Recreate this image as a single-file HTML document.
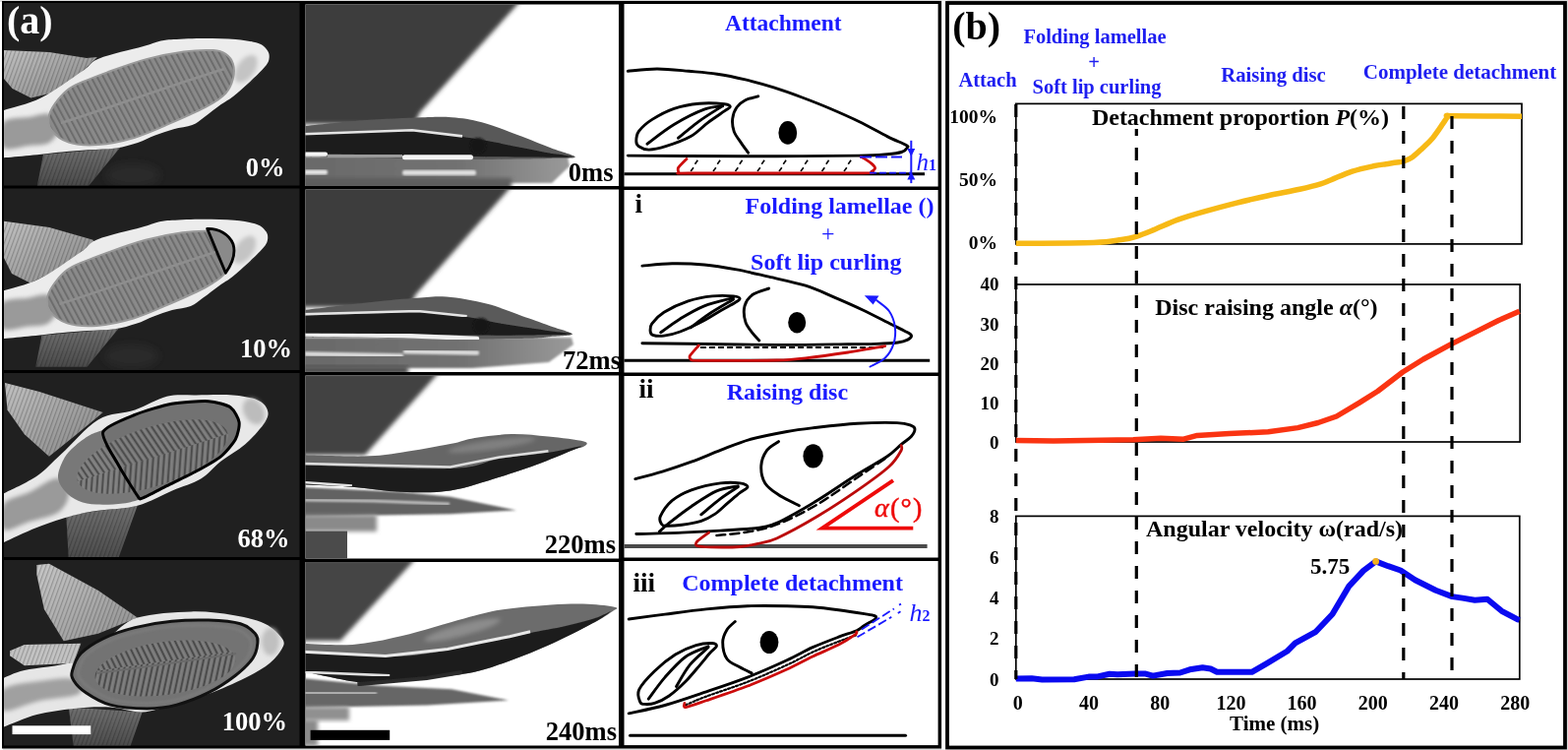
<!DOCTYPE html>
<html><head><meta charset="utf-8"><title>Figure</title>
<style>html,body{margin:0;padding:0;background:#fff;} svg{display:block;}</style>
</head><body>
<svg width="1594" height="762" viewBox="0 0 1594 762">
<defs>
<filter id="b05" x="-10%" y="-10%" width="120%" height="120%"><feGaussianBlur stdDeviation="0.6"/></filter>
<filter id="b1" x="-10%" y="-10%" width="120%" height="120%"><feGaussianBlur stdDeviation="1.2"/></filter>
<filter id="b2" x="-20%" y="-20%" width="140%" height="140%"><feGaussianBlur stdDeviation="2.2"/></filter>
<filter id="b4" x="-30%" y="-30%" width="160%" height="160%"><feGaussianBlur stdDeviation="4"/></filter>
<linearGradient id="finA" x1="0" y1="0" x2="1" y2="1"><stop offset="0" stop-color="#c2c2c2"/><stop offset="1" stop-color="#858585"/></linearGradient>
<linearGradient id="finB" x1="0" y1="0" x2="0" y2="1"><stop offset="0" stop-color="#707070"/><stop offset="1" stop-color="#4a4a4a"/></linearGradient>
<linearGradient id="finC" x1="0" y1="0" x2="1" y2="1"><stop offset="0" stop-color="#c8c8c8"/><stop offset="1" stop-color="#909090"/></linearGradient>
<pattern id="ridge" width="5.5" height="10" patternUnits="userSpaceOnUse" patternTransform="rotate(-28)"><rect width="5.5" height="10" fill="#8a8a8a"/><rect width="2" height="10" fill="#6c6c6c"/></pattern>
<pattern id="ridgeD" width="5.5" height="10" patternUnits="userSpaceOnUse" patternTransform="rotate(-8)"><rect width="5.5" height="10" fill="#787878"/><rect width="1.6" height="10" fill="#505050"/></pattern>
<linearGradient id="reflG" x1="0" y1="0" x2="1" y2="0"><stop offset="0" stop-color="#6a6a6a"/><stop offset="0.6" stop-color="#727272"/><stop offset="1" stop-color="#9a9a9a"/></linearGradient>
<pattern id="rU" width="5.5" height="10" patternUnits="userSpaceOnUse" patternTransform="rotate(-26)"><rect width="1.7" height="10" fill="#474747"/><rect x="2.6" width="1.6" height="10" fill="#8a8a8a" fill-opacity="0.6"/></pattern>
<pattern id="rL" width="5.5" height="10" patternUnits="userSpaceOnUse" patternTransform="rotate(12)"><rect width="1.7" height="10" fill="#474747"/><rect x="2.6" width="1.6" height="10" fill="#8a8a8a" fill-opacity="0.6"/></pattern>
<pattern id="rU3" width="5.5" height="10" patternUnits="userSpaceOnUse" patternTransform="rotate(-34)"><rect width="1.7" height="10" fill="#4a4a4a"/><rect x="2.6" width="1.6" height="10" fill="#8e8e8e" fill-opacity="0.6"/></pattern>
<pattern id="rL3" width="5.5" height="10" patternUnits="userSpaceOnUse" patternTransform="rotate(4)"><rect width="1.7" height="10" fill="#4a4a4a"/><rect x="2.6" width="1.6" height="10" fill="#8e8e8e" fill-opacity="0.6"/></pattern>
<clipPath id="cD4in"><ellipse cx="168" cy="679" rx="72" ry="27" transform="rotate(-8 168 679)"/></clipPath>
<clipPath id="cD3in"><ellipse cx="155" cy="464" rx="80" ry="30" transform="rotate(-18 155 464)"/></clipPath>
<pattern id="fstripe" width="4" height="4" patternUnits="userSpaceOnUse" patternTransform="rotate(20)"><rect width="4" height="4" fill="#000" fill-opacity="0"/><rect width="1.2" height="4" fill="#000" fill-opacity="0.22"/></pattern>
<clipPath id="cL1"><rect x="4" y="3" width="300.5" height="185.5"/></clipPath>
<clipPath id="cL2"><rect x="4" y="191.5" width="300.5" height="184.5"/></clipPath>
<clipPath id="cL3"><rect x="4" y="379" width="300.5" height="187"/></clipPath>
<clipPath id="cL4"><rect x="4" y="569" width="300.5" height="188.5"/></clipPath>
<clipPath id="cM1"><rect x="310.5" y="4.5" width="318.5" height="184.5"/></clipPath>
<clipPath id="cM2"><rect x="310.5" y="192.5" width="318.5" height="185.5"/></clipPath>
<clipPath id="cM3"><rect x="310.5" y="381.5" width="318.5" height="186"/></clipPath>
<clipPath id="cM4"><rect x="310.5" y="571" width="318.5" height="186.5"/></clipPath>
</defs>
<rect x="0" y="0" width="1594" height="762" fill="#dcdcdc"/>
<rect x="0" y="2" width="3" height="760" fill="#fff"/>
<rect x="2" y="1" width="955.3" height="759.5" fill="#000"/>
<rect x="957.3" y="0.5" width="5.7" height="761" fill="#fff"/>
<rect x="963" y="3" width="628" height="756.5" fill="#fff" stroke="#000" stroke-width="3.8"/>
<rect x="4" y="3" width="300.5" height="185.5" fill="#202020"/>
<rect x="4" y="191.5" width="300.5" height="184.5" fill="#202020"/>
<rect x="4" y="379" width="300.5" height="187" fill="#202020"/>
<rect x="4" y="569" width="300.5" height="188.5" fill="#202020"/>
<rect x="310.5" y="4.5" width="318.5" height="184.5" fill="#fff"/>
<rect x="310.5" y="192.5" width="318.5" height="185.5" fill="#fff"/>
<rect x="310.5" y="381.5" width="318.5" height="186.0" fill="#fff"/>
<rect x="310.5" y="571" width="318.5" height="186.5" fill="#fff"/>
<rect x="634.5" y="4" width="319.1" height="185.5" fill="#fff"/>
<rect x="634.5" y="193" width="319.1" height="185.5" fill="#fff"/>
<rect x="634.5" y="382" width="319.1" height="184.5" fill="#fff"/>
<rect x="634.5" y="570" width="319.1" height="187.10000000000002" fill="#fff"/>
<rect x="1032.8" y="105.4" width="514.2" height="142.5" fill="none" stroke="#000" stroke-width="1.7"/>
<rect x="1032.8" y="289" width="512.4000000000001" height="160" fill="none" stroke="#000" stroke-width="1.7"/>
<rect x="1032.8" y="524.4" width="512.0" height="165.60000000000002" fill="none" stroke="#000" stroke-width="1.7"/>
<text x="1261" y="127.3" font-family="'Liberation Serif', 'Times New Roman', serif" font-size="24" font-weight="bold" fill="#000" text-anchor="middle" >Detachment proportion <tspan font-style="italic">P</tspan>(%)</text>
<text x="1287.4" y="319.7" font-family="'Liberation Serif', 'Times New Roman', serif" font-size="24" font-weight="bold" fill="#000" text-anchor="middle" >Disc raising angle <tspan font-style="italic">α</tspan>(°)</text>
<text x="1295.5" y="545" font-family="'Liberation Serif', 'Times New Roman', serif" font-size="24" font-weight="bold" fill="#000" text-anchor="middle" >Angular velocity ω(rad/s)</text>
<path d="M1032.8,247.3 C1045.9,247.2 1093.7,247.1 1111.6,246.5 C1129.5,245.9 1132.8,244.5 1140.0,243.5 C1147.2,242.5 1149.7,241.9 1155.0,240.3 C1160.3,238.7 1164.9,236.8 1172.0,233.9 C1179.1,231.1 1188.7,226.4 1197.6,223.2 C1206.5,220.0 1215.3,217.5 1225.3,214.7 C1235.2,211.8 1246.6,208.8 1257.3,206.1 C1268.0,203.4 1278.6,201.0 1289.3,198.7 C1300.0,196.4 1312.4,194.3 1321.3,192.3 C1330.2,190.3 1337.3,188.5 1342.6,186.9 C1347.9,185.3 1348.0,184.8 1353.3,182.7 C1358.6,180.6 1367.5,176.4 1374.6,174.1 C1381.7,171.8 1390.3,170.0 1396.0,168.8 C1401.7,167.6 1404.8,167.3 1408.8,166.7 C1412.8,166.1 1417.1,165.4 1420.0,165.0 C1422.9,164.6 1423.7,164.9 1426.3,164.0 C1428.9,163.1 1432.4,162.1 1435.7,159.8 C1439.0,157.5 1442.7,153.7 1446.2,150.4 C1449.7,147.1 1453.2,144.1 1456.7,139.9 C1460.2,135.7 1464.6,128.9 1467.2,125.2 C1469.8,121.5 1470.9,119.1 1472.5,117.9 C1474.1,116.7 1464.3,117.8 1476.7,117.8 C1489.1,117.8 1535.3,118.1 1547.0,118.2" fill="none" stroke="#f7b916" stroke-width="5.5" stroke-linejoin="round" stroke-linecap="butt"/>
<polyline points="1032.8,447.6 1071.0,448.0 1152.0,446.8 1180.0,445.3 1203.2,446.2 1217.1,442.4 1249.6,440.6 1289.1,438.8 1319.3,434.6 1340.0,429.5 1358.7,423.0 1382.0,409.1 1400.5,397.5 1426.0,378.0 1446.9,365.0 1474.8,349.9 1500.3,337.1 1523.5,325.5 1544.6,316.2" fill="none" stroke="#fa3412" stroke-width="5.5" stroke-linejoin="round" stroke-linecap="butt"/>
<polyline points="1032.8,689.4 1048.8,689.3 1059.4,690.4 1092.0,690.3 1106.7,687.6 1114.8,687.6 1127.9,684.7 1136.0,685.2 1154.0,684.4 1163.8,684.4 1171.9,686.6 1186.6,684.0 1199.7,683.5 1209.4,680.3 1222.5,678.3 1230.7,679.5 1237.2,682.7 1272.6,682.8 1287.3,674.4 1308.3,661.8 1316.7,653.4 1337.7,641.8 1354.5,624.0 1371.3,595.6 1386.0,579.9 1398.6,570.4 1411.2,575.2 1423.8,579.5 1438.5,589.3 1459.5,599.8 1476.3,606.1 1486.7,607.6 1499.3,609.7 1512.0,608.7 1526.6,620.8 1542.4,629.2 1544.6,630.0" fill="none" stroke="#0a0af0" stroke-width="6" stroke-linejoin="round" stroke-linecap="butt"/>
<line x1="1032.8" y1="106" x2="1032.8" y2="690" stroke="#000" stroke-width="3.2" stroke-dasharray="13 12" stroke-dashoffset="0"/>
<line x1="1155.3" y1="131" x2="1155.3" y2="690" stroke="#000" stroke-width="3.2" stroke-dasharray="13 12" stroke-dashoffset="6"/>
<line x1="1426.8" y1="106" x2="1426.8" y2="690" stroke="#000" stroke-width="3.2" stroke-dasharray="13 12" stroke-dashoffset="-2"/>
<line x1="1476" y1="106" x2="1476" y2="690" stroke="#000" stroke-width="3.2" stroke-dasharray="13 12" stroke-dashoffset="-12"/>
<circle cx="1398.6" cy="570.4" r="3.4" fill="#f2b01e"/>
<text x="1352" y="582.5" font-family="'Liberation Serif', 'Times New Roman', serif" font-size="23" font-weight="bold" fill="#000" text-anchor="middle" >5.75</text>
<text x="1014" y="124.8" font-family="'Liberation Serif', 'Times New Roman', serif" font-size="19.5" font-weight="bold" fill="#000" text-anchor="end" >100%</text>
<text x="1014" y="189.2" font-family="'Liberation Serif', 'Times New Roman', serif" font-size="19.5" font-weight="bold" fill="#000" text-anchor="end" >50%</text>
<text x="1014" y="252.9" font-family="'Liberation Serif', 'Times New Roman', serif" font-size="19.5" font-weight="bold" fill="#000" text-anchor="end" >0%</text>
<text x="1015.5" y="295.40000000000003" font-family="'Liberation Serif', 'Times New Roman', serif" font-size="19" font-weight="bold" fill="#000" text-anchor="end" >40</text>
<text x="1015.5" y="335.50000000000006" font-family="'Liberation Serif', 'Times New Roman', serif" font-size="19" font-weight="bold" fill="#000" text-anchor="end" >30</text>
<text x="1015.5" y="375.6" font-family="'Liberation Serif', 'Times New Roman', serif" font-size="19" font-weight="bold" fill="#000" text-anchor="end" >20</text>
<text x="1015.5" y="415.7" font-family="'Liberation Serif', 'Times New Roman', serif" font-size="19" font-weight="bold" fill="#000" text-anchor="end" >10</text>
<text x="1015.5" y="455.8" font-family="'Liberation Serif', 'Times New Roman', serif" font-size="19" font-weight="bold" fill="#000" text-anchor="end" >0</text>
<text x="1015.5" y="531.1999999999999" font-family="'Liberation Serif', 'Times New Roman', serif" font-size="19" font-weight="bold" fill="#000" text-anchor="end" >8</text>
<text x="1015.5" y="572.5999999999999" font-family="'Liberation Serif', 'Times New Roman', serif" font-size="19" font-weight="bold" fill="#000" text-anchor="end" >6</text>
<text x="1015.5" y="614.0" font-family="'Liberation Serif', 'Times New Roman', serif" font-size="19" font-weight="bold" fill="#000" text-anchor="end" >4</text>
<text x="1015.5" y="655.4" font-family="'Liberation Serif', 'Times New Roman', serif" font-size="19" font-weight="bold" fill="#000" text-anchor="end" >2</text>
<text x="1015.5" y="696.8" font-family="'Liberation Serif', 'Times New Roman', serif" font-size="19" font-weight="bold" fill="#000" text-anchor="end" >0</text>
<text x="1034.8" y="721" font-family="'Liberation Serif', 'Times New Roman', serif" font-size="20" font-weight="bold" fill="#000" text-anchor="middle" >0</text>
<text x="1107.0" y="721" font-family="'Liberation Serif', 'Times New Roman', serif" font-size="20" font-weight="bold" fill="#000" text-anchor="middle" >40</text>
<text x="1179.2" y="721" font-family="'Liberation Serif', 'Times New Roman', serif" font-size="20" font-weight="bold" fill="#000" text-anchor="middle" >80</text>
<text x="1251.4" y="721" font-family="'Liberation Serif', 'Times New Roman', serif" font-size="20" font-weight="bold" fill="#000" text-anchor="middle" >120</text>
<text x="1323.6" y="721" font-family="'Liberation Serif', 'Times New Roman', serif" font-size="20" font-weight="bold" fill="#000" text-anchor="middle" >160</text>
<text x="1395.8" y="721" font-family="'Liberation Serif', 'Times New Roman', serif" font-size="20" font-weight="bold" fill="#000" text-anchor="middle" >200</text>
<text x="1468.0" y="721" font-family="'Liberation Serif', 'Times New Roman', serif" font-size="20" font-weight="bold" fill="#000" text-anchor="middle" >240</text>
<text x="1540.2" y="721" font-family="'Liberation Serif', 'Times New Roman', serif" font-size="20" font-weight="bold" fill="#000" text-anchor="middle" >280</text>
<text x="1295.6" y="742" font-family="'Liberation Serif', 'Times New Roman', serif" font-size="21" font-weight="bold" fill="#000" text-anchor="middle" >Time (ms)</text>
<text x="968.3" y="39.5" font-family="'Liberation Serif', 'Times New Roman', serif" font-size="40" font-weight="bold" fill="#000" text-anchor="start" >(b)</text>
<text x="1113" y="43.5" font-family="'Liberation Serif', 'Times New Roman', serif" font-size="20.5" font-weight="bold" fill="#1e1ef0" text-anchor="middle" >Folding lamellae</text>
<text x="1112" y="69.5" font-family="'Liberation Serif', 'Times New Roman', serif" font-size="20.5" font-weight="bold" fill="#1e1ef0" text-anchor="middle" >+</text>
<text x="1115" y="94.5" font-family="'Liberation Serif', 'Times New Roman', serif" font-size="20.5" font-weight="bold" fill="#1e1ef0" text-anchor="middle" >Soft lip curling</text>
<text x="1004" y="87.7" font-family="'Liberation Serif', 'Times New Roman', serif" font-size="20.5" font-weight="bold" fill="#1e1ef0" text-anchor="middle" >Attach</text>
<text x="1294.5" y="83" font-family="'Liberation Serif', 'Times New Roman', serif" font-size="20.7" font-weight="bold" fill="#1e1ef0" text-anchor="middle" >Raising disc</text>
<text x="1484" y="80.2" font-family="'Liberation Serif', 'Times New Roman', serif" font-size="21" font-weight="bold" fill="#1e1ef0" text-anchor="middle" >Complete detachment</text>
<g clip-path="url(#cL1)"><polygon points="4.0,51.0 50.0,53.0 88.0,59.0 99.0,58.0 82.0,74.0 63.0,92.0 31.5,99.5 12.6,90.0 4.0,80.0" fill="url(#finA)" filter="url(#b05)"/><polygon points="4.0,51.0 50.0,53.0 88.0,59.0 99.0,58.0 82.0,74.0 63.0,92.0 31.5,99.5 12.6,90.0 4.0,80.0" fill="url(#fstripe)" /><polygon points="44.0,157.0 122.0,150.0 90.0,189.0 37.8,189.0" fill="url(#finB)" filter="url(#b05)"/>
<polygon points="44.0,157.0 122.0,150.0 90.0,189.0 37.8,189.0" fill="url(#fstripe)" />
<ellipse cx="135" cy="178" rx="28" ry="12" fill="#3a3a3a" fill-opacity="0.4" filter="url(#b4)"/>
<path d="M4.0,112.0 C10.3,109.9 28.7,106.0 42.0,99.3 C55.3,92.6 74.2,78.7 84.0,72.0 C93.8,65.3 90.6,63.5 100.8,59.4 C111.0,55.3 134.8,50.2 145.0,47.3 C155.2,44.4 156.6,43.2 161.8,42.0 C167.1,40.8 168.8,40.5 176.5,40.0 C184.2,39.5 197.5,38.9 208.0,38.9 C218.5,38.9 230.4,39.1 239.5,40.0 C248.6,40.9 257.2,42.2 262.6,44.1 C268.0,46.0 270.2,48.9 272.0,51.5 C273.8,54.1 274.0,57.1 273.5,59.9 C273.0,62.7 272.1,64.5 268.9,68.3 C265.7,72.1 259.4,78.1 254.2,83.0 C248.9,87.9 242.3,93.9 237.4,97.7 C232.5,101.5 229.7,102.6 224.8,106.1 C219.9,109.6 212.9,115.2 208.0,118.7 C203.1,122.2 200.7,125.0 195.4,127.1 C190.2,129.2 182.8,129.6 176.5,131.3 C170.2,133.1 163.7,135.3 157.6,137.6 C151.5,139.9 146.6,142.8 140.0,145.0 C133.4,147.2 126.3,149.3 118.0,150.5 C109.7,151.7 99.2,151.6 90.0,152.3 C80.8,153.0 73.0,153.6 63.0,154.5 C53.0,155.4 39.8,157.0 30.0,158.0 C20.2,159.0 8.3,159.9 4.0,160.3 Z" fill="#ececec" filter="url(#b05)"/>
<path d="M4.0,124.0 C8.3,118.8 22.3,120.3 30.0,119.0 C37.7,117.7 45.0,114.2 50.0,116.0 C55.0,117.8 60.0,125.2 60.0,130.0 C60.0,134.8 55.0,142.0 50.0,145.0 C45.0,148.0 37.7,147.2 30.0,148.0 C22.3,148.8 8.3,154.0 4.0,150.0 C-0.3,146.0 -0.3,129.2 4.0,124.0 Z" fill="#9a9a9a" filter="url(#b2)"/>
<ellipse cx="250" cy="70" rx="9" ry="16" transform="rotate(35 250 70)" fill="#c4c4c4" filter="url(#b2)"/>
<path d="M49.9,117.2 C51.2,111.8 55.9,105.0 60.0,100.0 C64.2,95.0 66.1,91.9 74.8,87.3 C83.5,82.7 99.7,76.9 112.2,72.3 C124.7,67.7 137.1,63.2 149.6,59.9 C162.1,56.6 175.8,53.9 187.0,52.4 C198.2,50.9 209.9,50.7 217.0,51.1 C224.1,51.5 226.1,52.6 229.4,54.9 C232.7,57.2 235.7,60.6 236.9,64.8 C238.2,69.0 238.2,74.8 236.9,79.8 C235.7,84.8 233.6,90.2 229.4,94.8 C225.2,99.4 221.1,102.2 212.0,107.2 C202.9,112.2 187.1,119.3 174.6,124.7 C162.1,130.1 149.7,136.0 137.2,139.7 C124.7,143.4 111.0,146.3 99.8,147.1 C88.6,147.9 77.7,147.1 69.8,144.6 C61.9,142.1 55.7,136.8 52.4,132.2 C49.1,127.6 48.6,122.6 49.9,117.2 Z" fill="url(#ridge)" stroke="#999" stroke-width="2" filter="url(#b05)"/>
<path d="M62,125 C110,110 170,88 228,70" stroke="#8e8e8e" stroke-width="2.5" fill="none" filter="url(#b05)"/></g>
<text x="7" y="34.3" font-family="'Liberation Serif', 'Times New Roman', serif" font-size="40" font-weight="bold" fill="#fff" text-anchor="start" >(a)</text>
<text x="289.5" y="178.5" font-family="'Liberation Serif', 'Times New Roman', serif" font-size="26.5" font-weight="bold" fill="#fff" text-anchor="end" >0%</text>
<g clip-path="url(#cL2)"><polygon points="4.0,224.8 50.0,231.0 94.6,243.7 96.0,246.0 82.0,256.0 63.0,272.0 30.7,287.5 12.0,278.0 4.0,262.0" fill="url(#finA)" filter="url(#b05)"/><polygon points="4.0,224.8 50.0,231.0 94.6,243.7 96.0,246.0 82.0,256.0 63.0,272.0 30.7,287.5 12.0,278.0 4.0,262.0" fill="url(#fstripe)" /><g transform="translate(-1.5,183.8)"><polygon points="44.0,157.0 122.0,150.0 90.0,189.0 37.8,189.0" fill="url(#finB)" filter="url(#b05)"/>
<polygon points="44.0,157.0 122.0,150.0 90.0,189.0 37.8,189.0" fill="url(#fstripe)" />
<ellipse cx="135" cy="178" rx="28" ry="12" fill="#3a3a3a" fill-opacity="0.4" filter="url(#b4)"/>
<path d="M4.0,112.0 C10.3,109.9 28.7,106.0 42.0,99.3 C55.3,92.6 74.2,78.7 84.0,72.0 C93.8,65.3 90.6,63.5 100.8,59.4 C111.0,55.3 134.8,50.2 145.0,47.3 C155.2,44.4 156.6,43.2 161.8,42.0 C167.1,40.8 168.8,40.5 176.5,40.0 C184.2,39.5 197.5,38.9 208.0,38.9 C218.5,38.9 230.4,39.1 239.5,40.0 C248.6,40.9 257.2,42.2 262.6,44.1 C268.0,46.0 270.2,48.9 272.0,51.5 C273.8,54.1 274.0,57.1 273.5,59.9 C273.0,62.7 272.1,64.5 268.9,68.3 C265.7,72.1 259.4,78.1 254.2,83.0 C248.9,87.9 242.3,93.9 237.4,97.7 C232.5,101.5 229.7,102.6 224.8,106.1 C219.9,109.6 212.9,115.2 208.0,118.7 C203.1,122.2 200.7,125.0 195.4,127.1 C190.2,129.2 182.8,129.6 176.5,131.3 C170.2,133.1 163.7,135.3 157.6,137.6 C151.5,139.9 146.6,142.8 140.0,145.0 C133.4,147.2 126.3,149.3 118.0,150.5 C109.7,151.7 99.2,151.6 90.0,152.3 C80.8,153.0 73.0,153.6 63.0,154.5 C53.0,155.4 39.8,157.0 30.0,158.0 C20.2,159.0 8.3,159.9 4.0,160.3 Z" fill="#ececec" filter="url(#b05)"/>
<path d="M4.0,124.0 C8.3,118.8 22.3,120.3 30.0,119.0 C37.7,117.7 45.0,114.2 50.0,116.0 C55.0,117.8 60.0,125.2 60.0,130.0 C60.0,134.8 55.0,142.0 50.0,145.0 C45.0,148.0 37.7,147.2 30.0,148.0 C22.3,148.8 8.3,154.0 4.0,150.0 C-0.3,146.0 -0.3,129.2 4.0,124.0 Z" fill="#9a9a9a" filter="url(#b2)"/>
<ellipse cx="250" cy="70" rx="9" ry="16" transform="rotate(35 250 70)" fill="#c4c4c4" filter="url(#b2)"/>
<path d="M49.9,117.2 C51.2,111.8 55.9,105.0 60.0,100.0 C64.2,95.0 66.1,91.9 74.8,87.3 C83.5,82.7 99.7,76.9 112.2,72.3 C124.7,67.7 137.1,63.2 149.6,59.9 C162.1,56.6 175.8,53.9 187.0,52.4 C198.2,50.9 209.9,50.7 217.0,51.1 C224.1,51.5 226.1,52.6 229.4,54.9 C232.7,57.2 235.7,60.6 236.9,64.8 C238.2,69.0 238.2,74.8 236.9,79.8 C235.7,84.8 233.6,90.2 229.4,94.8 C225.2,99.4 221.1,102.2 212.0,107.2 C202.9,112.2 187.1,119.3 174.6,124.7 C162.1,130.1 149.7,136.0 137.2,139.7 C124.7,143.4 111.0,146.3 99.8,147.1 C88.6,147.9 77.7,147.1 69.8,144.6 C61.9,142.1 55.7,136.8 52.4,132.2 C49.1,127.6 48.6,122.6 49.9,117.2 Z" fill="url(#ridge)" stroke="#999" stroke-width="2" filter="url(#b05)"/>
<path d="M62,125 C110,110 170,88 228,70" stroke="#8e8e8e" stroke-width="2.5" fill="none" filter="url(#b05)"/></g><path d="M210.7,232.4 C222,232 233,238 237,248 C240,258 236,268 229.4,277.3 L210.7,232.4 Z" fill="#8a8a8a" stroke="#000" stroke-width="2.8" stroke-linejoin="round"/></g>
<text x="297" y="363.3" font-family="'Liberation Serif', 'Times New Roman', serif" font-size="26.5" font-weight="bold" fill="#fff" text-anchor="end" >10%</text>
<g clip-path="url(#cL3)"><polygon points="5.0,389.0 40.0,398.0 104.7,418.9 74.8,443.8 49.9,463.8 24.9,441.3 7.5,416.4" fill="url(#finA)" filter="url(#b05)"/><polygon points="5.0,389.0 40.0,398.0 104.7,418.9 74.8,443.8 49.9,463.8 24.9,441.3 7.5,416.4" fill="url(#fstripe)" /><polygon points="67.3,523.6 139.7,513.7 119.7,569.0 69.8,569.0" fill="url(#finB)" filter="url(#b05)"/><polygon points="67.3,523.6 139.7,513.7 119.7,569.0 69.8,569.0" fill="url(#fstripe)" /><path d="M4.0,501.2 C9.6,498.3 27.7,490.3 37.4,483.7 C47.1,477.1 51.9,470.9 62.3,461.3 C72.7,451.8 87.3,433.9 99.8,426.4 C112.3,418.9 125.6,420.3 137.2,416.4 C148.8,412.4 159.2,405.2 169.6,402.7 C180.0,400.2 188.3,401.6 199.5,401.4 C210.7,401.2 226.5,400.6 236.9,401.4 C247.3,402.2 256.0,403.9 261.8,406.4 C267.6,408.9 270.6,412.6 271.8,416.4 C273.1,420.1 273.0,423.1 269.3,428.9 C265.6,434.7 256.9,444.6 249.4,451.3 C241.9,458.0 231.9,463.0 224.4,468.8 C216.9,474.6 212.8,481.2 204.5,486.2 C196.2,491.2 185.4,494.1 174.6,498.7 C163.8,503.3 152.2,510.4 139.7,513.7 C127.2,517.0 110.6,517.1 99.8,518.7 C89.0,520.4 85.2,520.7 74.8,523.6 C64.4,526.5 49.2,531.5 37.4,536.1 C25.6,540.7 9.6,548.6 4.0,551.1 Z" fill="#e8e8e8" filter="url(#b05)"/><path d="M4.0,512.0 C8.3,505.7 21.0,504.3 30.0,500.0 C39.0,495.7 51.3,486.0 58.0,486.0 C64.7,486.0 69.7,494.3 70.0,500.0 C70.3,505.7 66.7,515.0 60.0,520.0 C53.3,525.0 39.3,527.0 30.0,530.0 C20.7,533.0 8.3,541.0 4.0,538.0 C-0.3,535.0 -0.3,518.3 4.0,512.0 Z" fill="#9a9a9a" filter="url(#b2)"/><ellipse cx="258" cy="418" rx="10" ry="14" transform="rotate(-30 258 418)" fill="#bcbcbc" filter="url(#b2)"/><path d="M59.0,485.0 C58.7,479.8 61.7,472.8 64.0,468.0 C66.3,463.2 68.4,460.5 72.7,456.3 C77.0,452.1 84.3,446.3 89.7,443.0 C95.1,439.7 97.1,440.1 105.0,436.5 C112.9,432.9 125.3,425.8 137.0,421.5 C148.7,417.2 162.5,412.8 175.0,410.5 C187.5,408.2 202.1,407.4 212.0,408.0 C221.9,408.6 229.2,410.5 234.4,414.0 C239.6,417.5 242.3,423.5 243.1,428.9 C243.9,434.3 242.5,440.5 239.4,446.3 C236.3,452.1 231.1,458.4 224.4,463.8 C217.8,469.2 208.6,473.8 199.5,478.8 C190.4,483.8 178.8,489.1 169.6,493.7 C160.4,498.3 152.0,503.2 144.6,506.2 C137.2,509.2 132.7,510.4 125.0,511.5 C117.3,512.6 105.8,513.0 98.3,512.6 C90.8,512.2 85.4,511.3 80.0,509.0 C74.6,506.7 69.5,503.0 66.0,499.0 C62.5,495.0 59.3,490.2 59.0,485.0 Z" fill="#787878" filter="url(#b05)"/><path d="M104.7,438.9 C106.7,433.1 129.0,424.7 137.2,421.4 C145.4,418.1 165.9,411.8 174.6,410.2 C183.3,408.6 205.0,407.3 212.0,407.7 C219.0,408.1 230.8,411.4 234.4,413.9 C238.0,416.4 242.5,425.1 243.1,428.9 C243.7,432.7 241.6,442.2 239.4,446.3 C237.2,450.4 229.1,460.0 224.4,463.8 C219.7,467.6 205.9,475.3 199.5,478.8 C193.1,482.3 176.0,490.5 169.6,493.7 C163.2,496.9 148.1,505.0 144.6,506.2 C141.1,507.4 142.6,507.8 139.7,503.7 C136.8,499.6 123.8,478.9 119.7,471.3 C115.6,463.7 102.7,444.7 104.7,438.9 Z" fill="#727272"/><g clip-path="url(#cD3in)"><polygon points="60,495 260,432 260,380 60,380" fill="url(#rU3)"/><polygon points="60,495 260,432 260,560 60,560" fill="url(#rL3)"/></g><path d="M104.7,438.9 C106.7,433.1 129.0,424.7 137.2,421.4 C145.4,418.1 165.9,411.8 174.6,410.2 C183.3,408.6 205.0,407.3 212.0,407.7 C219.0,408.1 230.8,411.4 234.4,413.9 C238.0,416.4 242.5,425.1 243.1,428.9 C243.7,432.7 241.6,442.2 239.4,446.3 C237.2,450.4 229.1,460.0 224.4,463.8 C219.7,467.6 205.9,475.3 199.5,478.8 C193.1,482.3 176.0,490.5 169.6,493.7 C163.2,496.9 148.1,505.0 144.6,506.2 C141.1,507.4 142.6,507.8 139.7,503.7 C136.8,499.6 123.8,478.9 119.7,471.3 C115.6,463.7 102.7,444.7 104.7,438.9 Z" fill="none" stroke="#000" stroke-width="3"/></g>
<text x="294.5" y="556.1" font-family="'Liberation Serif', 'Times New Roman', serif" font-size="26.5" font-weight="bold" fill="#fff" text-anchor="end" >68%</text>
<g clip-path="url(#cL4)"><polygon points="37.4,574.0 49.9,572.7 100.0,600.0 139.7,627.6 99.8,643.8 64.8,651.3 44.9,618.9 37.4,584.0" fill="url(#finC)" filter="url(#b05)"/><polygon points="37.4,574.0 49.9,572.7 100.0,600.0 139.7,627.6 99.8,643.8 64.8,651.3 44.9,618.9 37.4,584.0" fill="url(#fstripe)" /><polygon points="69.8,718.6 144.6,723.6 132.2,759.0 74.8,759.0" fill="url(#finB)" filter="url(#b05)"/><polygon points="69.8,718.6 144.6,723.6 132.2,759.0 74.8,759.0" fill="url(#fstripe)" /><path d="M4.0,688.7 C7.5,687.4 13.1,683.8 24.9,681.0 C36.7,678.2 60.6,677.5 74.8,672.0 C89.0,666.5 99.2,655.4 110.0,648.0 C120.8,640.6 125.6,632.0 139.7,627.6 C153.8,623.2 178.3,621.8 194.5,621.4 C210.7,621.0 224.4,623.0 236.9,625.1 C249.4,627.2 261.0,629.8 269.3,633.8 C277.6,637.8 283.9,644.6 286.8,648.8 C289.7,653.0 288.9,654.6 286.8,658.8 C284.7,662.9 280.5,668.7 274.3,673.7 C268.1,678.7 259.8,683.5 249.4,688.7 C239.0,693.9 224.5,700.3 212.0,704.9 C199.5,709.5 185.8,713.0 174.6,716.1 C163.4,719.2 155.0,723.2 144.6,723.6 C134.2,724.0 123.8,719.2 112.2,718.6 C100.6,718.0 87.3,718.6 74.8,719.9 C62.3,721.1 49.2,723.0 37.4,726.1 C25.6,729.2 9.6,736.5 4.0,738.6 Z" fill="#e6e6e6" filter="url(#b05)"/><polygon points="10.0,661.3 24.9,655.0 82.3,653.8 74.8,673.7 24.9,676.2 10.0,666.3" fill="#c4c4c4" filter="url(#b05)"/><polygon points="10.0,661.3 24.9,655.0 82.3,653.8 74.8,673.7 24.9,676.2 10.0,666.3" fill="url(#fstripe)" /><path d="M4.0,700.0 C10.0,695.0 28.2,693.7 40.0,692.0 C51.8,690.3 68.3,687.8 75.0,690.0 C81.7,692.2 85.8,701.3 80.0,705.0 C74.2,708.7 52.7,709.2 40.0,712.0 C27.3,714.8 10.0,724.0 4.0,722.0 C-2.0,720.0 -2.0,705.0 4.0,700.0 Z" fill="#a0a0a0" filter="url(#b2)"/><ellipse cx="275" cy="652" rx="9" ry="14" fill="#c0c0c0" filter="url(#b2)"/><path d="M73.6,681.2 C74.8,676.6 77.1,669.2 82.3,663.8 C87.5,658.4 95.6,653.2 104.7,648.8 C113.8,644.4 125.5,640.5 137.2,637.6 C148.8,634.7 162.1,632.5 174.6,631.3 C187.1,630.0 200.4,629.7 212.0,630.1 C223.6,630.5 236.5,631.5 244.4,633.8 C252.3,636.1 256.5,640.5 259.4,643.8 C262.3,647.1 262.2,649.6 261.8,653.8 C261.4,658.0 260.6,663.4 256.9,668.8 C253.2,674.2 246.9,680.4 239.4,686.2 C231.9,692.0 222.0,698.7 212.0,703.7 C202.0,708.7 190.0,713.4 179.6,716.1 C169.2,718.8 160.8,719.9 149.6,719.9 C138.4,719.9 122.6,718.8 112.2,716.1 C101.8,713.4 93.5,707.9 87.3,703.7 C81.1,699.6 77.1,695.0 74.8,691.2 C72.5,687.5 72.3,685.8 73.6,681.2 Z" fill="#737373" stroke="#111" stroke-width="3"/><path d="M73.6,681.2 C74.8,676.6 77.1,669.2 82.3,663.8 C87.5,658.4 95.6,653.2 104.7,648.8 C113.8,644.4 125.5,640.5 137.2,637.6 C148.8,634.7 162.1,632.5 174.6,631.3 C187.1,630.0 200.4,629.7 212.0,630.1 C223.6,630.5 236.5,631.5 244.4,633.8 C252.3,636.1 256.5,640.5 259.4,643.8 C262.3,647.1 262.2,649.6 261.8,653.8 C261.4,658.0 260.6,663.4 256.9,668.8 C253.2,674.2 246.9,680.4 239.4,686.2 C231.9,692.0 222.0,698.7 212.0,703.7 C202.0,708.7 190.0,713.4 179.6,716.1 C169.2,718.8 160.8,719.9 149.6,719.9 C138.4,719.9 122.6,718.8 112.2,716.1 C101.8,713.4 93.5,707.9 87.3,703.7 C81.1,699.6 77.1,695.0 74.8,691.2 C72.5,687.5 72.3,685.8 73.6,681.2 Z" fill="none" stroke="#808080" stroke-opacity="0.6" stroke-width="3" transform="translate(168 675) scale(0.93 0.88) translate(-168 -675)" filter="url(#b1)"/><g clip-path="url(#cD4in)"><polygon points="60,687 280,656 280,600 60,600" fill="url(#rU)"/><polygon points="60,687 280,656 280,760 60,760" fill="url(#rL)"/></g><path d="M98,684 C140,679 200,670 240,664" stroke="#6a6a6a" stroke-width="2" fill="none"/><rect x="12.5" y="737.3" width="79.8" height="8.8" fill="#fff"/></g>
<text x="292" y="742.3" font-family="'Liberation Serif', 'Times New Roman', serif" font-size="26.5" font-weight="bold" fill="#fff" text-anchor="end" >100%</text>
<g clip-path="url(#cM1)"><polygon points="305.0,0.0 530.0,0.0 427.0,114.0 421.0,126.0 305.0,126.0" fill="#3c3c3c" filter="url(#b2)"/><polygon points="305.0,159.0 577.0,159.0 579.0,168.7 561.0,186.0 305.0,186.0" fill="url(#reflG)" filter="url(#b1)"/><rect x="305" y="181" width="215" height="12" fill="#5c5c5c" filter="url(#b2)"/><rect x="409" y="172.7" width="75" height="5.5" rx="2.5" fill="#dedede" filter="url(#b1)"/><rect x="305" y="172.5" width="28" height="5" rx="2" fill="#e6e6e6" filter="url(#b1)"/><path d="M305.0,128.5 C315.6,127.5 347.9,123.8 368.6,122.2 C389.3,120.7 414.1,119.7 429.2,119.2 C444.3,118.7 449.4,118.4 459.5,119.2 C469.6,120.0 478.0,121.0 489.8,124.2 C501.6,127.4 518.4,134.0 530.2,138.4 C542.0,142.8 551.4,147.0 560.5,150.5 C569.6,154.0 584.9,157.8 584.8,159.6 C584.7,161.3 569.1,160.7 560.0,161.0 C550.9,161.3 543.3,161.3 530.0,161.5 C516.7,161.7 500.2,162.1 480.0,162.0 C459.8,161.9 433.7,161.4 409.0,161.0 C384.3,160.6 349.3,159.8 332.0,159.5 C314.7,159.2 309.5,159.1 305.0,159.0 Z" fill="#585858" filter="url(#b05)"/><path d="M305.0,137.0 C324.0,136.3 391.5,132.7 419.0,133.0 C446.5,133.3 456.5,137.2 470.0,139.0 C483.5,140.8 490.0,142.2 500.0,144.0 C510.0,145.8 520.8,148.2 530.0,150.0 C539.2,151.8 546.3,153.4 555.0,155.0 C563.7,156.6 584.5,158.6 582.0,159.3 C579.5,160.1 557.0,159.6 540.0,159.5 C523.0,159.4 501.7,159.2 480.0,159.0 C458.3,158.8 434.7,158.4 410.0,158.0 C385.3,157.6 349.5,156.8 332.0,156.5 C314.5,156.2 309.5,156.1 305.0,156.0 Z" fill="#1a1a1a" filter="url(#b05)"/><path d="M305,136.4 L419,132.3 L470,138.4" stroke="#e4e4e4" stroke-width="2.6" fill="none" filter="url(#b05)"/><rect x="409" y="157.3" width="72" height="5" rx="2.5" fill="#f4f4f4" filter="url(#b05)"/><rect x="305" y="154.5" width="28" height="4.2" rx="2" fill="#f4f4f4" filter="url(#b05)"/><rect x="333" y="157" width="76" height="3" fill="#9a9a9a" filter="url(#b05)"/><circle cx="486" cy="148" r="8" fill="#141414" filter="url(#b1)"/></g>
<text x="623.5" y="183.8" font-family="'Liberation Serif', 'Times New Roman', serif" font-size="26.5" font-weight="bold" fill="#000" text-anchor="end" >0ms</text>
<g clip-path="url(#cM2)"><polygon points="305.0,188.0 521.0,188.0 422.0,300.0 417.0,312.0 305.0,312.0" fill="#3c3c3c" filter="url(#b2)"/><polygon points="305.0,343.0 581.0,343.0 583.0,350.0 558.0,368.0 480.0,374.0 305.0,374.0" fill="url(#reflG)" filter="url(#b1)"/><rect x="305" y="372" width="110" height="8" fill="#4a4a4a" filter="url(#b2)"/><path d="M305,359.5 L408,361.5 M412,357.3 L485,358.5" stroke="#dedede" stroke-width="4.5" fill="none" stroke-linecap="round" filter="url(#b1)"/><path d="M305.0,315.5 C315.9,314.2 351.3,309.8 370.5,307.7 C389.7,305.6 406.1,304.0 420.0,303.0 C433.9,302.0 441.2,300.5 453.8,301.5 C466.4,302.5 481.6,305.2 495.5,308.8 C509.4,312.4 526.5,319.5 537.2,323.3 C548.0,327.1 552.5,328.8 560.0,331.5 C567.5,334.2 582.0,337.8 582.0,339.5 C582.0,341.2 567.6,341.3 560.0,342.0 C552.4,342.7 553.4,343.4 536.3,343.8 C519.2,344.2 480.2,344.6 457.5,344.5 C434.8,344.4 425.4,343.8 400.0,343.5 C374.6,343.2 320.8,342.7 305.0,342.5 Z" fill="#5a5a5a" filter="url(#b05)"/><path d="M305.0,321.0 C324.9,320.4 396.4,317.3 424.7,317.5 C453.0,317.7 461.3,320.2 474.7,322.0 C488.1,323.8 494.6,326.2 505.0,328.0 C515.4,329.8 527.8,331.6 537.0,333.0 C546.2,334.4 552.8,335.4 560.0,336.5 C567.2,337.6 583.3,338.6 580.0,339.3 C576.7,340.0 556.7,340.3 540.0,340.5 C523.3,340.7 501.7,340.7 480.0,340.5 C458.3,340.3 439.2,339.9 410.0,339.5 C380.8,339.1 322.5,338.2 305.0,338.0 Z" fill="#1a1a1a" filter="url(#b05)"/><path d="M305,319.4 L424.7,316 L474.7,321.3" stroke="#e4e4e4" stroke-width="2.6" fill="none" filter="url(#b05)"/><path d="M305,339.5 L410,341 L485,344" stroke="#f0f0f0" stroke-width="4.5" fill="none" stroke-linecap="round" filter="url(#b05)"/><circle cx="489" cy="331" r="8" fill="#141414" filter="url(#b1)"/></g>
<text x="631" y="374.8" font-family="'Liberation Serif', 'Times New Roman', serif" font-size="26.5" font-weight="bold" fill="#000" text-anchor="end" >72ms</text>
<g clip-path="url(#cM3)"><polygon points="305.0,378.0 446.6,378.0 371.0,462.3 305.0,462.3" fill="#424242" filter="url(#b2)"/><polygon points="305.0,495.0 407.8,499.7 457.7,504.7 525.0,518.4 457.7,522.2 382.8,523.4 305.0,524.7" fill="#626262" filter="url(#b1)"/><rect x="305" y="523" width="78" height="17" fill="#8a8a8a" filter="url(#b2)"/><rect x="305" y="539.6" width="48" height="30" fill="#4c4c4c" filter="url(#b05)"/><path d="M305,508 L380,509 L457,512" stroke="#cfcfcf" stroke-width="2.5" fill="none" filter="url(#b1)"/><path d="M305.0,462.3 C315.9,462.5 353.3,464.0 370.4,463.6 C387.5,463.2 393.2,461.9 407.8,459.8 C422.4,457.7 445.2,453.6 457.7,451.1 C470.2,448.6 472.2,446.6 482.6,444.9 C493.0,443.2 507.5,441.3 520.0,441.1 C532.5,440.9 545.1,442.4 557.4,443.6 C569.7,444.9 587.6,446.9 593.6,448.6 C599.6,450.3 595.5,452.2 593.6,453.6 C591.7,455.1 590.5,454.2 582.4,457.3 C574.3,460.4 557.5,467.7 545.0,472.3 C532.5,476.9 522.1,480.4 507.6,484.8 C493.1,489.2 474.3,496.0 457.7,498.5 C441.1,501.0 424.4,500.3 407.8,499.7 C391.2,499.1 375.0,495.9 357.9,494.7 C340.8,493.4 313.8,492.6 305.0,492.2 Z" fill="#666" filter="url(#b05)"/><ellipse cx="500" cy="452" rx="45" ry="5" transform="rotate(-8 500 452)" fill="#808080" filter="url(#b2)"/><path d="M305.0,472.3 C330.4,472.9 423.9,477.1 457.7,476.0 C491.5,474.9 491.0,468.7 507.6,466.0 C524.2,463.3 543.7,461.9 557.4,459.8 C571.1,457.7 585.8,453.9 590.0,453.5 C594.2,453.1 589.9,454.2 582.4,457.3 C574.9,460.4 557.5,467.7 545.0,472.3 C532.5,476.9 522.1,480.4 507.6,484.8 C493.1,489.2 474.3,496.0 457.7,498.5 C441.1,501.0 424.4,500.3 407.8,499.7 C391.2,499.1 375.0,495.9 357.9,494.7 C340.8,493.4 313.8,492.6 305.0,492.2 Z" fill="#1e1e1e" filter="url(#b05)"/><path d="M305,471 L457.7,474.5 L507.6,464.5 L557.4,458.3" stroke="#dcdcdc" stroke-width="2.6" fill="none" filter="url(#b05)"/><path d="M305,489.8 L357.9,493.5" stroke="#e0e0e0" stroke-width="2.6" fill="none" filter="url(#b05)"/></g>
<text x="626" y="562.1" font-family="'Liberation Serif', 'Times New Roman', serif" font-size="26.5" font-weight="bold" fill="#000" text-anchor="end" >220ms</text>
<g clip-path="url(#cM4)"><polygon points="305.0,568.0 422.2,568.0 346.0,651.1 305.0,651.1" fill="#444" filter="url(#b2)"/><polygon points="305.0,688.9 383.6,696.5 459.1,700.2 517.1,711.6 433.9,716.6 305.0,719.1" fill="#666" filter="url(#b1)"/><rect x="305" y="718" width="50" height="14" fill="#909090" filter="url(#b2)"/><rect x="305" y="731" width="18" height="27" fill="#8a8a8a" filter="url(#b2)"/><path d="M305,704 L383,704.5" stroke="#d0d0d0" stroke-width="2.5" fill="none" filter="url(#b1)"/><path d="M305.0,653.6 C313.9,653.8 341.1,656.1 358.4,654.9 C375.7,653.6 389.9,650.5 408.8,646.1 C427.7,641.7 454.9,632.9 471.7,628.5 C488.5,624.1 494.8,621.9 509.5,619.6 C524.2,617.3 545.2,615.6 559.9,614.6 C574.6,613.6 586.8,613.4 597.7,613.8 C608.6,614.2 621.2,615.9 625.4,617.1 C629.6,618.3 626.8,618.1 622.9,620.9 C619.0,623.6 612.4,628.0 601.9,633.6 C591.4,639.2 573.9,648.3 559.9,654.6 C545.9,660.9 532.0,666.5 518.0,671.4 C504.0,676.3 493.5,680.9 476.0,684.0 C458.5,687.1 430.5,688.6 413.0,690.3 C395.5,692.0 389.0,695.5 371.0,694.0 C353.0,692.5 316.0,683.5 305.0,681.4 Z" fill="#6c6c6c" filter="url(#b05)"/><ellipse cx="470" cy="640" rx="40" ry="6" transform="rotate(-15 470 640)" fill="#8c8c8c" filter="url(#b2)"/><path d="M305.0,663.0 C322.3,663.6 378.9,668.2 408.8,666.8 C438.7,665.3 466.1,657.5 484.3,654.3 C502.5,651.1 508.9,649.4 518.0,647.5 C527.1,645.6 529.5,644.9 539.0,643.0 C548.5,641.1 564.0,638.5 575.0,636.0 C586.0,633.5 597.3,630.5 605.0,628.0 C612.7,625.5 621.5,620.1 621.0,621.0 C620.5,621.9 612.1,628.0 601.9,633.6 C591.7,639.2 573.9,648.3 559.9,654.6 C545.9,660.9 532.0,666.5 518.0,671.4 C504.0,676.3 493.5,680.9 476.0,684.0 C458.5,687.1 430.5,688.6 413.0,690.3 C395.5,692.0 389.0,695.5 371.0,694.0 C353.0,692.5 316.0,683.5 305.0,681.4 Z" fill="#1e1e1e" filter="url(#b05)"/><path d="M305,662 L392,666.5 L455,659.5 L486.4,653 L518,646.7 L539,641.8" stroke="#e8e8e8" stroke-width="3" fill="none" filter="url(#b05)"/><path d="M305,682.6 L396.2,686.4" stroke="#e0e0e0" stroke-width="2.6" fill="none" filter="url(#b05)"/><path d="M363.4,695.2 L434,688.9 L470,683" stroke="#2a2a2a" stroke-width="4" fill="none" filter="url(#b05)"/><rect x="315.6" y="741.8" width="80.6" height="10.1" fill="#000"/></g>
<text x="627" y="751.9" font-family="'Liberation Serif', 'Times New Roman', serif" font-size="26.5" font-weight="bold" fill="#000" text-anchor="end" >240ms</text>
<text x="796.3" y="30.6" font-family="'Liberation Serif', 'Times New Roman', serif" font-size="23.5" font-weight="bold" fill="#1a1aff" text-anchor="middle" >Attachment</text>
<line x1="634.5" y1="176.8" x2="940" y2="176.8" stroke="#000" stroke-width="3"/>
<path d="M638.3,72.3 C643.2,71.9 657.7,70.0 668.0,70.0 C678.3,70.0 689.9,71.4 700.0,72.3 C710.1,73.2 719.3,73.8 728.9,75.2 C738.5,76.6 748.1,78.6 757.7,80.9 C767.3,83.2 777.0,85.9 786.6,88.9 C796.2,91.9 805.8,95.4 815.4,99.0 C825.0,102.6 834.7,106.4 844.3,110.5 C853.9,114.6 863.6,118.8 873.2,123.5 C882.8,128.2 894.1,134.6 902.0,138.6 C909.9,142.6 917.4,145.4 920.8,147.3 C924.2,149.2 922.9,149.0 922.2,150.2 C921.5,151.4 919.9,153.4 916.5,154.5 C913.1,155.6 909.2,156.1 902.0,156.7 C894.8,157.3 891.9,157.8 873.2,158.1 C854.5,158.4 818.9,158.7 790.0,158.8 C761.1,158.9 725.3,158.6 700.0,158.5 C674.7,158.4 648.6,158.2 638.3,158.1" fill="none" stroke="#000" stroke-width="2.9" stroke-linecap="round" stroke-linejoin="round" />
<path d="M649.4,148.7 C647.3,147.3 646.8,146.1 646.8,143.6 C646.8,141.1 646.7,137.1 649.4,133.4 C652.1,129.7 657.0,125.2 663.0,121.4 C669.0,117.6 677.2,113.0 685.2,110.3 C693.2,107.6 702.3,106.0 710.8,105.2 C719.3,104.4 731.1,105.1 736.4,105.7 C741.6,106.3 742.3,107.4 742.3,108.6 C742.3,109.8 740.2,110.2 736.4,112.9 C732.6,115.6 725.0,120.5 719.3,124.8 C713.6,129.1 709.3,134.5 702.2,138.5 C695.1,142.5 683.8,146.4 676.7,148.7 C669.6,151.0 664.2,152.1 659.6,152.1 C655.0,152.1 651.5,150.1 649.4,148.7 Z" fill="none" stroke="#000" stroke-width="2.9" stroke-linecap="round" stroke-linejoin="round" />
<path d="M657.9,146.2 C662.5,142.9 675.5,132.3 685.2,126.5 C694.9,120.7 707.6,114.3 715.9,111.2 C724.1,108.1 731.6,108.4 734.7,107.8" fill="none" stroke="#000" stroke-width="2.9" stroke-linecap="round" stroke-linejoin="round" />
<path d="M689.5,140.2 C693.0,137.3 703.5,128.4 710.8,123.1 C718.0,117.8 729.3,111.0 733.0,108.6" fill="none" stroke="#000" stroke-width="2.9" stroke-linecap="round" stroke-linejoin="round" />
<path d="M770.7,97.8 C768.5,98.5 761.3,99.9 757.7,101.8 C754.1,103.7 751.2,105.9 749.0,109.0 C746.8,112.1 745.2,116.5 744.7,120.6 C744.2,124.7 744.8,129.5 746.2,133.6 C747.7,137.7 751.0,141.5 753.4,145.1 C755.8,148.7 759.4,153.5 760.6,155.2" fill="none" stroke="#000" stroke-width="2.9" stroke-linecap="round" stroke-linejoin="round" />
<ellipse cx="800.8" cy="134.9" rx="9.4" ry="11.8" fill="#000"/>
<path d="M702.2,174 l2.8,-3.8 M706.5,166.8 l2.8,-4" stroke="#000" stroke-width="1.6" fill="none"/>
<path d="M725.0,174 l2.8,-3.8 M729.3,166.8 l2.8,-4" stroke="#000" stroke-width="1.6" fill="none"/>
<path d="M747.5,174 l2.8,-3.8 M751.8,166.8 l2.8,-4" stroke="#000" stroke-width="1.6" fill="none"/>
<path d="M770.0,174 l2.8,-3.8 M774.3,166.8 l2.8,-4" stroke="#000" stroke-width="1.6" fill="none"/>
<path d="M792.0,174 l2.8,-3.8 M796.3,166.8 l2.8,-4" stroke="#000" stroke-width="1.6" fill="none"/>
<path d="M814.0,174 l2.8,-3.8 M818.3,166.8 l2.8,-4" stroke="#000" stroke-width="1.6" fill="none"/>
<path d="M835.5,174 l2.8,-3.8 M839.8,166.8 l2.8,-4" stroke="#000" stroke-width="1.6" fill="none"/>
<path d="M858.0,174 l2.8,-3.8 M862.3,166.8 l2.8,-4" stroke="#000" stroke-width="1.6" fill="none"/>
<path d="M698.0,161.5 C697.1,162.4 690.2,169.1 689.5,170.5 C688.8,171.9 689.5,175.0 690.5,175.6 C691.5,176.2 681.4,176.0 700.0,176.0 C718.6,176.0 858.0,176.0 876.6,175.8 C895.2,175.6 884.7,174.8 886.0,174.3 C887.3,173.8 889.6,171.7 889.6,170.9 C889.6,170.1 887.5,167.5 886.5,166.6 C885.5,165.7 880.6,162.3 879.5,161.6 C878.4,160.9 875.6,159.6 875.2,159.4" fill="none" stroke="#cc0c0c" stroke-width="2.8" stroke-linecap="round" stroke-linejoin="round" />
<line x1="874" y1="159.6" x2="917" y2="159.6" stroke="#1a1aff" stroke-width="2" stroke-dasharray="12 4"/>
<line x1="884" y1="175.6" x2="926" y2="175.6" stroke="#1a1aff" stroke-width="1.8" stroke-dasharray="7 3"/>
<line x1="926.3" y1="142.8" x2="926.3" y2="186.1" stroke="#1a1aff" stroke-width="2"/>
<path d="M922.3,151 L930.3,151 L926.3,159 Z M922.3,182.5 L930.3,182.5 L926.3,174.5 Z" fill="#1a1aff"/>
<text x="931.5" y="173.3" font-family="'Liberation Serif', 'Times New Roman', serif" font-size="25" font-weight="normal" fill="#1a1aff" text-anchor="start" ><tspan font-style="italic" font-weight="normal">h</tspan><tspan font-size="16" font-weight="bold">1</tspan></text>
<text x="645.5" y="216.1" font-family="'Liberation Serif', 'Times New Roman', serif" font-size="27" font-weight="bold" fill="#000" text-anchor="start" >i</text>
<text x="853.5" y="216.7" font-family="'Liberation Serif', 'Times New Roman', serif" font-size="24" font-weight="bold" fill="#1a1aff" text-anchor="middle" >Folding lamellae ()</text>
<text x="841.7" y="245" font-family="'Liberation Serif', 'Times New Roman', serif" font-size="24" font-weight="normal" fill="#1a1aff" text-anchor="middle" >+</text>
<text x="839.8" y="274.4" font-family="'Liberation Serif', 'Times New Roman', serif" font-size="24" font-weight="bold" fill="#1a1aff" text-anchor="middle" >Soft lip curling</text>
<line x1="634.5" y1="366.2" x2="945.2" y2="366.2" stroke="#000" stroke-width="3"/>
<path d="M652.9,270.1 C658.0,269.7 672.7,268.0 683.2,267.8 C693.7,267.6 705.1,268.0 716.0,269.0 C726.9,270.0 737.9,271.9 748.8,273.9 C759.7,275.9 769.9,278.5 781.6,281.2 C793.3,283.9 807.9,286.8 818.9,290.2 C829.9,293.6 838.1,297.7 847.7,301.8 C857.3,305.9 867.0,310.1 876.6,314.7 C886.2,319.3 898.3,325.6 905.5,329.2 C912.7,332.8 916.4,334.5 919.9,336.4 C923.4,338.3 925.9,339.2 926.4,340.7 C926.9,342.1 925.1,343.9 922.8,345.1 C920.5,346.3 918.0,347.3 912.7,348.0 C907.4,348.7 899.4,349.1 891.0,349.4 C882.6,349.7 879.0,349.5 862.2,349.7 C845.4,349.9 817.0,350.5 790.0,350.4 C763.0,350.3 722.9,349.6 700.0,349.3 C677.1,349.0 660.8,348.9 652.9,348.8" fill="none" stroke="#000" stroke-width="2.9" stroke-linecap="round" stroke-linejoin="round" />
<path d="M663.5,340.3 C661.2,339.5 661.2,338.1 661.1,336.2 C661.0,334.3 660.4,331.9 662.7,328.8 C665.0,325.7 668.9,321.1 675.0,317.3 C681.1,313.5 691.4,308.6 699.6,305.9 C707.8,303.2 716.6,301.7 724.2,300.9 C731.9,300.1 740.9,300.5 745.5,300.9 C750.1,301.3 751.8,302.3 752.1,303.4 C752.4,304.5 750.5,305.4 747.2,307.5 C743.9,309.6 737.6,312.7 732.4,315.7 C727.2,318.7 722.8,321.9 716.0,325.5 C709.2,329.1 698.2,334.4 691.4,337.0 C684.6,339.6 679.6,340.6 675.0,341.1 C670.4,341.7 665.8,341.1 663.5,340.3 Z" fill="none" stroke="#000" stroke-width="2.9" stroke-linecap="round" stroke-linejoin="round" />
<path d="M671.7,337.8 C675.0,335.5 684.0,328.4 691.4,323.9 C698.8,319.4 707.0,314.4 716.0,310.8 C725.0,307.2 740.6,304.0 745.5,302.6" fill="none" stroke="#000" stroke-width="2.9" stroke-linecap="round" stroke-linejoin="round" />
<path d="M702.1,332.9 C705.2,330.6 713.7,323.8 720.9,319.0 C728.1,314.2 741.4,306.7 745.5,304.2" fill="none" stroke="#000" stroke-width="2.9" stroke-linecap="round" stroke-linejoin="round" />
<path d="M781.6,293.1 C778.9,294.1 769.3,296.4 765.2,299.3 C761.1,302.2 758.2,306.2 757.0,310.8 C755.8,315.4 756.5,322.6 757.9,327.2 C759.3,331.8 762.9,335.6 765.2,338.7 C767.5,341.8 770.7,344.8 771.8,346.0" fill="none" stroke="#000" stroke-width="2.9" stroke-linecap="round" stroke-linejoin="round" />
<ellipse cx="810.2" cy="327.7" rx="9" ry="10.8" fill="#000"/>
<line x1="712" y1="353" x2="899.7" y2="353" stroke="#000" stroke-width="2.2" stroke-dasharray="6 3"/>
<path d="M710.3,351.0 C709.4,352.1 702.0,360.1 701.3,361.6 C700.6,363.1 701.6,365.5 703.5,366.0 C705.4,366.5 711.4,366.4 720.0,366.4 C728.6,366.4 780.1,366.3 790.0,366.0 C799.9,365.7 811.7,364.6 818.9,363.8 C826.1,363.0 854.1,359.2 862.2,358.0 C870.3,356.8 896.0,352.2 899.7,351.6" fill="none" stroke="#cc0c0c" stroke-width="2.8" stroke-linecap="round" stroke-linejoin="round" />
<path d="M884.5,372.5 C887.0,371.1 895.7,367.7 899.7,363.8 C903.7,359.9 906.7,354.7 908.4,349.4 C910.1,344.1 910.5,337.6 909.8,332.1 C909.1,326.6 907.1,320.7 904.0,316.2 C900.9,311.7 893.2,306.9 891.0,305.0" fill="none" stroke="#1a1aff" stroke-width="2" stroke-linecap="round" stroke-linejoin="round" />
<path d="M878.8,300.3 L893.5,300.6 L887.6,309.6 Z" fill="#1a1aff"/>
<text x="649.5" y="404.1" font-family="'Liberation Serif', 'Times New Roman', serif" font-size="27" font-weight="bold" fill="#000" text-anchor="start" >ii</text>
<text x="800.4" y="405.8" font-family="'Liberation Serif', 'Times New Roman', serif" font-size="24" font-weight="bold" fill="#1a1aff" text-anchor="middle" >Raising disc</text>
<line x1="634.5" y1="555" x2="942.6" y2="555" stroke="#4a4a4a" stroke-width="3.8"/>
<path d="M645.8,486.6 C650.4,485.4 663.9,482.0 673.4,479.1 C682.9,476.2 693.0,472.8 702.9,469.2 C712.8,465.6 722.6,461.2 732.5,457.4 C742.4,453.6 750.8,449.8 762.0,446.6 C773.2,443.5 788.5,440.6 800.0,438.5 C811.5,436.4 818.8,435.7 830.7,434.3 C842.6,432.9 857.9,431.1 871.4,430.3 C884.9,429.5 902.9,429.3 912.0,429.6 C921.1,429.9 923.3,431.2 926.3,432.3 C929.3,433.4 930.0,434.1 930.0,436.0 C930.0,437.9 928.6,440.9 926.3,443.5 C924.0,446.1 920.2,448.2 916.1,451.6 C912.0,455.0 909.4,458.7 901.9,463.8 C894.4,468.9 883.3,474.6 871.4,482.1 C859.5,489.6 842.6,501.2 830.7,508.6 C818.8,516.0 807.2,522.4 800.0,526.3 C792.8,530.2 792.3,530.6 787.6,532.2 C782.9,533.9 781.1,535.1 771.9,536.2 C762.7,537.4 745.6,538.3 732.5,539.1 C719.4,539.9 707.4,540.5 693.1,541.1 C678.8,541.7 654.5,542.3 646.8,542.5" fill="none" stroke="#000" stroke-width="2.9" stroke-linecap="round" stroke-linejoin="round" />
<path d="M677.3,534.2 C673.8,534.0 673.4,533.8 672.4,532.2 C671.4,530.6 669.6,528.3 671.4,524.4 C673.2,520.5 678.0,513.0 683.2,508.6 C688.5,504.2 694.7,500.8 702.9,497.8 C711.1,494.9 724.3,492.0 732.5,490.9 C740.7,489.8 747.6,490.2 752.2,490.9 C756.8,491.5 760.0,493.2 760.0,494.8 C760.0,496.4 755.5,498.1 752.2,500.7 C748.9,503.3 744.6,507.0 740.3,510.6 C736.0,514.2 731.2,519.3 726.6,522.4 C722.0,525.5 718.4,527.5 712.8,529.3 C707.2,531.1 699.0,532.4 693.1,533.2 C687.2,534.0 680.8,534.4 677.3,534.2 Z" fill="none" stroke="#000" stroke-width="2.9" stroke-linecap="round" stroke-linejoin="round" />
<path d="M670.4,540.1 C671.9,538.8 673.9,536.5 679.3,532.2 C684.7,527.9 694.7,520.1 702.9,514.5 C711.1,508.9 720.6,502.2 728.5,498.8 C736.4,495.4 746.6,494.6 750.2,493.8" fill="none" stroke="#000" stroke-width="2.9" stroke-linecap="round" stroke-linejoin="round" />
<path d="M712.8,522.8 C716.1,520.1 726.3,511.3 732.5,506.6 C738.7,501.9 747.2,496.8 750.2,494.8" fill="none" stroke="#000" stroke-width="2.9" stroke-linecap="round" stroke-linejoin="round" />
<path d="M791.5,448.6 C789.5,450.1 782.7,453.3 779.7,457.4 C776.8,461.5 774.1,467.6 773.8,473.2 C773.5,478.8 774.8,486.0 777.8,490.9 C780.8,495.8 785.7,498.9 791.5,502.7 C797.3,506.5 808.9,511.9 812.4,513.7" fill="none" stroke="#000" stroke-width="2.9" stroke-linecap="round" stroke-linejoin="round" />
<ellipse cx="826.6" cy="463.4" rx="10.2" ry="12.2" fill="#000"/>
<path d="M728.5,544.1 C734.1,543.4 751.5,542.1 762.0,540.1 C772.5,538.1 780.0,536.8 791.5,532.2 C803.0,527.6 817.4,520.4 830.7,512.6 C844.0,504.8 859.9,493.0 871.4,485.2 C882.9,477.4 895.1,469.1 899.8,465.9" fill="none" stroke="#000" stroke-width="2.5" stroke-linecap="round" stroke-linejoin="round" stroke-dasharray="9 5"/>
<path d="M720.6,541.1 C719.0,542.3 710.4,548.2 708.8,550.0 C707.2,551.8 706.7,553.7 708.5,554.5 C710.3,555.3 716.8,555.8 722.6,555.9 C728.4,556.0 745.6,556.0 752.2,555.5 C758.8,555.0 766.9,553.1 771.9,552.0 C776.9,550.9 781.8,550.6 789.6,547.0 C797.4,543.4 819.8,531.3 830.7,524.8 C841.6,518.3 861.6,505.2 871.4,498.4 C881.2,491.6 897.9,479.4 903.9,474.0 C909.9,468.6 914.5,460.6 916.1,457.7 C917.7,454.8 916.1,453.3 916.1,452.6" fill="none" stroke="#bb0a0a" stroke-width="2.8" stroke-linecap="round" stroke-linejoin="round" />
<path d="M908,488.2 L835.8,536.6 L928.3,536.6" fill="none" stroke="#ee0a0a" stroke-width="3.8"/>
<text x="889" y="525.3" font-family="'Liberation Serif', 'Times New Roman', serif" font-size="28" font-weight="normal" fill="#ee0a0a" text-anchor="start" letter-spacing="1.3" stroke="#ee0a0a" stroke-width="0.5"><tspan font-style="italic">α</tspan>(°)</text>
<text x="643.5" y="601.1" font-family="'Liberation Serif', 'Times New Roman', serif" font-size="27" font-weight="bold" fill="#000" text-anchor="start" >iii</text>
<text x="805.6" y="600.3" font-family="'Liberation Serif', 'Times New Roman', serif" font-size="24" font-weight="bold" fill="#1a1aff" text-anchor="middle" >Complete detachment</text>
<line x1="640.5" y1="747.3" x2="920.5" y2="747.3" stroke="#000" stroke-width="3" stroke-linecap="round"/>
<path d="M639.2,629.0 C645.3,628.2 662.9,625.8 676.0,624.1 C689.1,622.4 704.0,620.3 718.0,618.9 C732.0,617.5 746.2,616.2 759.9,615.7 C773.6,615.2 789.0,615.5 800.0,615.7 C811.0,615.9 817.5,616.1 826.2,616.8 C835.0,617.5 843.8,618.6 852.5,619.7 C861.2,620.8 872.6,622.6 878.7,623.6 C884.8,624.6 887.2,624.9 889.2,625.6 C891.2,626.3 890.7,627.0 890.5,627.8 C890.3,628.6 889.9,628.9 887.9,630.2 C885.9,631.5 881.6,633.6 878.7,635.4 C875.9,637.1 875.2,638.7 870.8,640.7 C866.4,642.7 859.9,644.4 852.5,647.2 C845.1,650.0 835.0,653.8 826.2,657.7 C817.5,661.6 811.0,665.7 800.0,670.8 C789.0,675.9 773.6,682.8 759.9,688.1 C746.2,693.4 732.0,698.1 718.0,702.8 C704.0,707.5 689.1,712.8 676.0,716.5 C662.9,720.2 645.3,723.5 639.2,724.9" fill="none" stroke="#000" stroke-width="2.9" stroke-linecap="round" stroke-linejoin="round" />
<path d="M655.0,715.4 C652.5,715.2 651.7,715.8 650.8,713.3 C649.9,710.8 647.2,706.0 649.7,700.7 C652.2,695.5 659.4,687.7 665.5,681.8 C671.6,675.9 679.5,669.5 686.5,665.1 C693.5,660.7 701.2,657.5 707.5,655.6 C713.8,653.7 720.7,653.3 724.2,653.5 C727.7,653.7 728.8,655.1 728.4,656.7 C728.0,658.3 724.9,659.9 722.1,663.0 C719.3,666.1 715.8,670.7 711.6,675.6 C707.4,680.5 702.2,687.1 697.0,692.3 C691.8,697.5 685.5,703.3 680.2,707.0 C675.0,710.7 669.7,713.0 665.5,714.4 C661.3,715.8 657.5,715.6 655.0,715.4 Z" fill="none" stroke="#000" stroke-width="2.9" stroke-linecap="round" stroke-linejoin="round" />
<path d="M659.2,710.2 C662.0,706.5 669.7,695.3 676.0,688.1 C682.3,680.9 689.7,672.4 697.0,667.2 C704.3,662.0 716.2,658.5 720.0,656.7" fill="none" stroke="#000" stroke-width="2.9" stroke-linecap="round" stroke-linejoin="round" />
<path d="M687.5,697.6 C689.8,693.9 695.8,682.2 701.2,675.6 C706.6,669.0 716.9,660.7 720.0,657.7" fill="none" stroke="#000" stroke-width="2.9" stroke-linecap="round" stroke-linejoin="round" />
<path d="M747.3,631.5 C745.9,632.9 741.0,636.4 738.9,639.9 C736.8,643.4 734.7,647.6 734.7,652.5 C734.7,657.4 736.1,665.1 738.9,669.3 C741.7,673.5 747.3,675.2 751.5,677.6 C755.7,680.0 762.0,682.9 764.1,683.9" fill="none" stroke="#000" stroke-width="2.9" stroke-linecap="round" stroke-linejoin="round" />
<ellipse cx="782" cy="652.5" rx="9.4" ry="11.5" fill="#000"/>
<path d="M697.0,716.3 C700.5,714.8 707.5,711.5 718.0,707.6 C728.5,703.7 746.2,698.1 759.9,692.8 C773.6,687.5 789.0,680.6 800.0,675.6 C811.0,670.6 817.5,666.5 826.2,662.5 C835.0,658.5 845.1,654.7 852.5,651.8 C859.9,648.9 867.5,646.4 870.5,645.3" fill="none" stroke="#000" stroke-width="2.2" stroke-linecap="round" stroke-linejoin="round" stroke-dasharray="2 2.2"/>
<path d="M695.9,714.4 C696.0,715.0 694.1,718.9 697.0,718.6 C699.9,718.3 709.6,714.7 718.0,711.8 C726.4,708.9 749.0,701.2 759.9,697.0 C770.8,692.8 791.2,684.0 800.0,680.0 C808.8,676.0 819.2,670.2 826.2,666.9 C833.2,663.6 846.7,658.1 852.5,655.1 C858.3,652.1 867.1,646.3 869.5,644.6 C871.9,642.9 870.6,642.3 870.8,642.0" fill="none" stroke="#cc0c0c" stroke-width="2.8" stroke-linecap="round" stroke-linejoin="round" />
<path d="M871.5,647.2 L906.3,626.9 M912.8,623 L915.5,621.2 M876,639.4 L908.9,618.4 M914,614.6 L916,613.6" stroke="#1a1aff" stroke-width="1.8" stroke-dasharray="9 3.5" fill="none"/>
<text x="924.5" y="631" font-family="'Liberation Serif', 'Times New Roman', serif" font-size="26" font-weight="normal" fill="#1a1aff" text-anchor="start" ><tspan font-style="italic">h</tspan><tspan font-size="16" font-weight="bold">2</tspan></text>
</svg>
</body></html>
